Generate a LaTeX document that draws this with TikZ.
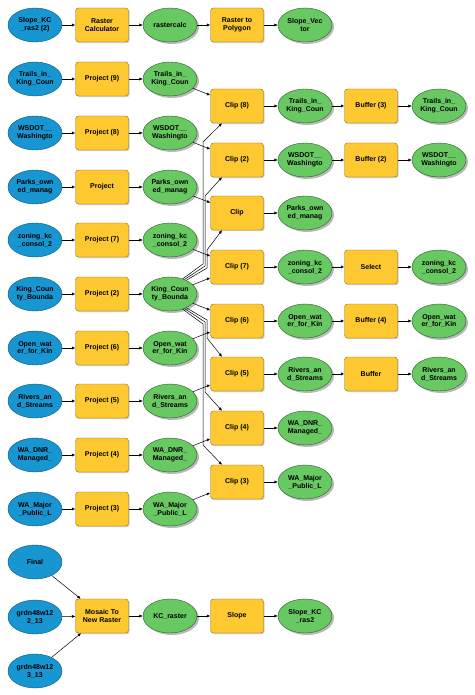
\documentclass[tikz,border=0pt]{standalone}
\usepackage{fontspec}
\setmainfont{Liberation Sans}
\usetikzlibrary{shapes.geometric,arrows.meta,shadows}
\definecolor{inblue}{RGB}{24,150,210}
\definecolor{outgreen}{RGB}{104,200,98}
\definecolor{toolyellow}{RGB}{253,200,48}
\begin{document}
\begin{tikzpicture}[x=1pt,y=-1pt,
  every node/.style={font=\fontsize{7}{7.8}\selectfont\bfseries, align=center, inner sep=0pt},
  indata/.style={ellipse, minimum width=54pt, minimum height=34pt, fill=inblue, draw=inblue!55!black, line width=0.4pt},
  outdata/.style={ellipse, minimum width=54pt, minimum height=34pt, fill=outgreen, draw=outgreen!45!black, line width=0.4pt,
    drop shadow={shadow xshift=2pt, shadow yshift=-2pt, fill=black!50, opacity=0.55}},
  tool/.style={rectangle, rounded corners=3pt, minimum width=53pt, minimum height=34pt, fill=toolyellow, draw=toolyellow!55!black, line width=0.4pt,
    drop shadow={shadow xshift=1.2pt, shadow yshift=-1.2pt, fill=black!40, opacity=0.45}},
  conn/.style={-{Latex[length=3.4pt,width=3pt]}, line width=0.5pt, black},
]
\fill[white] (0,0) rectangle (474,695);
\useasboundingbox (0,0) rectangle (474,695);

% ---- top row
\node[indata]  (sk2) at (35,25)  {Slope\_KC\\\_ras2 (2)};
\node[tool]    (rc)  at (102,25) {Raster\\Calculator};
\node[outdata] (rcg) at (170,25) {rastercalc};
\node[tool]    (rp)  at (237,25) {Raster to\\Polygon};
\node[outdata] (sv)  at (305,25) {Slope\_Vec\\tor};

% ---- left rows
\node[indata]  (i9) at (35,79)  {Trails\_in\_\\King\_Coun};
\node[tool]    (p9) at (102,79) {Project (9)};
\node[outdata] (g9) at (170,79) {Trails\_in\_\\King\_Coun};

\node[indata]  (i8) at (35,133)  {WSDOT\_\_\\Washingto};
\node[tool]    (p8) at (102,133) {Project (8)};
\node[outdata] (g8) at (170,133) {WSDOT\_\_\\Washingto};

\node[indata]  (i0) at (35,187)  {Parks\_own\\ed\_manag};
\node[tool]    (p0) at (102,187) {Project};
\node[outdata] (g0) at (170,187) {Parks\_own\\ed\_manag};

\node[indata]  (i7) at (35,240)  {zoning\_kc\\\_consol\_2};
\node[tool]    (p7) at (102,240) {Project (7)};
\node[outdata] (g7) at (170,240) {zoning\_kc\\\_consol\_2};

\node[indata]  (i2) at (35,294)  {King\_Coun\\ty\_Bounda};
\node[tool]    (p2) at (102,294) {Project (2)};
\node[outdata] (kg) at (170,294) {King\_Coun\\ty\_Bounda};

\node[indata]  (i6) at (35,348)  {Open\_wat\\er\_for\_Kin};
\node[tool]    (p6) at (102,348) {Project (6)};
\node[outdata] (g6) at (170,348) {Open\_wat\\er\_for\_Kin};

\node[indata]  (i5) at (35,401)  {Rivers\_an\\d\_Streams};
\node[tool]    (p5) at (102,401) {Project (5)};
\node[outdata] (g5) at (170,401) {Rivers\_an\\d\_Streams};

\node[indata]  (i4) at (35,455)  {WA\_DNR\_\\Managed\_};
\node[tool]    (p4) at (102,455) {Project (4)};
\node[outdata] (g4) at (170,455) {WA\_DNR\_\\Managed\_};

\node[indata]  (i3) at (35,509)  {WA\_Major\\\_Public\_L};
\node[tool]    (p3) at (102,509) {Project (3)};
\node[outdata] (g3) at (170,509) {WA\_Major\\\_Public\_L};

% ---- right rows
\node[tool]    (c8)  at (237,106) {Clip (8)};
\node[outdata] (cg8) at (305,106) {Trails\_in\_\\King\_Coun};
\node[tool]    (b3)  at (371,106) {Buffer (3)};
\node[outdata] (bg3) at (439,106) {Trails\_in\_\\King\_Coun};

\node[tool]    (c2)  at (237,160) {Clip (2)};
\node[outdata] (cg2) at (305,160) {WSDOT\_\_\\Washingto};
\node[tool]    (b2)  at (371,160) {Buffer (2)};
\node[outdata] (bg2) at (439,160) {WSDOT\_\_\\Washingto};

\node[tool]    (c1)  at (237,213) {Clip};
\node[outdata] (cg1) at (305,213) {Parks\_own\\ed\_manag};

\node[tool]    (c7)  at (237,267) {Clip (7)};
\node[outdata] (cg7) at (305,267) {zoning\_kc\\\_consol\_2};
\node[tool]    (sel) at (371,267) {Select};
\node[outdata] (sg7) at (439,267) {zoning\_kc\\\_consol\_2};

\node[tool]    (c6)  at (237,321) {Clip (6)};
\node[outdata] (cg6) at (305,321) {Open\_wat\\er\_for\_Kin};
\node[tool]    (b4)  at (371,321) {Buffer (4)};
\node[outdata] (bg4) at (439,321) {Open\_wat\\er\_for\_Kin};

\node[tool]    (c5)  at (237,374) {Clip (5)};
\node[outdata] (cg5) at (305,374) {Rivers\_an\\d\_Streams};
\node[tool]    (b1)  at (371,374) {Buffer};
\node[outdata] (bg1) at (439,374) {Rivers\_an\\d\_Streams};

\node[tool]    (c4)  at (237,428) {Clip (4)};
\node[outdata] (cg4) at (305,428) {WA\_DNR\_\\Managed\_};

\node[tool]    (c3)  at (237,482) {Clip (3)};
\node[outdata] (cg3) at (305,482) {WA\_Major\\\_Public\_L};

% ---- bottom
\node[indata]  (fin) at (35,562)  {Final};
\node[indata]  (gr2) at (35,617)  {grdn48w12\\2\_13};
\node[indata]  (gr3) at (35,671)  {grdn48w12\\3\_13};
\node[tool]    (mos) at (102,616) {Mosaic To\\New Raster};
\node[outdata] (kcr) at (170,616) {KC\_raster};
\node[tool]    (slp) at (237,616) {Slope};
\node[outdata] (skr) at (305,616) {Slope\_KC\\\_ras2};

% ---- connectors: top row
\draw[conn] (sk2) -- (rc);
\draw[conn] (rc) -- (rcg);
\draw[conn] (rcg) -- (rp);
\draw[conn] (rp) -- (sv);

% ---- left rows
\foreach \a/\b/\c in {i9/p9/g9, i8/p8/g8, i0/p0/g0, i7/p7/g7, i2/p2/kg, i6/p6/g6, i5/p5/g5, i4/p4/g4, i3/p3/g3}{
  \draw[conn] (\a) -- (\b);
  \draw[conn] (\b) -- (\c);
}

% ---- projected data into clips
\draw[conn] (g9) -- (c8);
\draw[conn] (g8) -- (c2);
\draw[conn] (g0) -- (c1);
\draw[conn] (g7) -- (c7);
\draw[conn] (g6) -- (c6);
\draw[conn] (g5) -- (c5);
\draw[conn] (g4) -- (c4);
\draw[conn] (g3) -- (c3);

% ---- King County boundary into every clip
\draw[conn] (kg) -- (c7);
\draw[conn] (kg) -- (c6);
\draw[conn] (kg.50) -- (203,264) -- (203,142) -- ([xshift=-15pt]c8.south);
\draw[conn] (kg.45) -- (205,266) -- (205,196) -- ([xshift=-15pt]c2.south);
\draw[conn] (kg.40) -- (207,268) -- (207,250) -- ([xshift=-15pt]c1.south);
\draw[conn] (kg.-40) -- (207,320) -- (207,338) -- ([xshift=-15pt]c5.north);
\draw[conn] (kg.-45) -- (205,322) -- (205,392) -- ([xshift=-15pt]c4.north);
\draw[conn] (kg.-50) -- (203,324) -- (203,445) -- ([xshift=-15pt]c3.north);

% ---- right rows
\draw[conn] (c8) -- (cg8);
\draw[conn] (cg8) -- (b3);
\draw[conn] (b3) -- (bg3);
\draw[conn] (c2) -- (cg2);
\draw[conn] (cg2) -- (b2);
\draw[conn] (b2) -- (bg2);
\draw[conn] (c1) -- (cg1);
\draw[conn] (c7) -- (cg7);
\draw[conn] (cg7) -- (sel);
\draw[conn] (sel) -- (sg7);
\draw[conn] (c6) -- (cg6);
\draw[conn] (cg6) -- (b4);
\draw[conn] (b4) -- (bg4);
\draw[conn] (c5) -- (cg5);
\draw[conn] (cg5) -- (b1);
\draw[conn] (b1) -- (bg1);
\draw[conn] (c4) -- (cg4);
\draw[conn] (c3) -- (cg3);

% ---- bottom
\draw[conn] (fin) -- (mos);
\draw[conn] (gr2) -- (mos);
\draw[conn] (gr3) -- (mos);
\draw[conn] (mos) -- (kcr);
\draw[conn] (kcr) -- (slp);
\draw[conn] (slp) -- (skr);
\end{tikzpicture}
\end{document}
